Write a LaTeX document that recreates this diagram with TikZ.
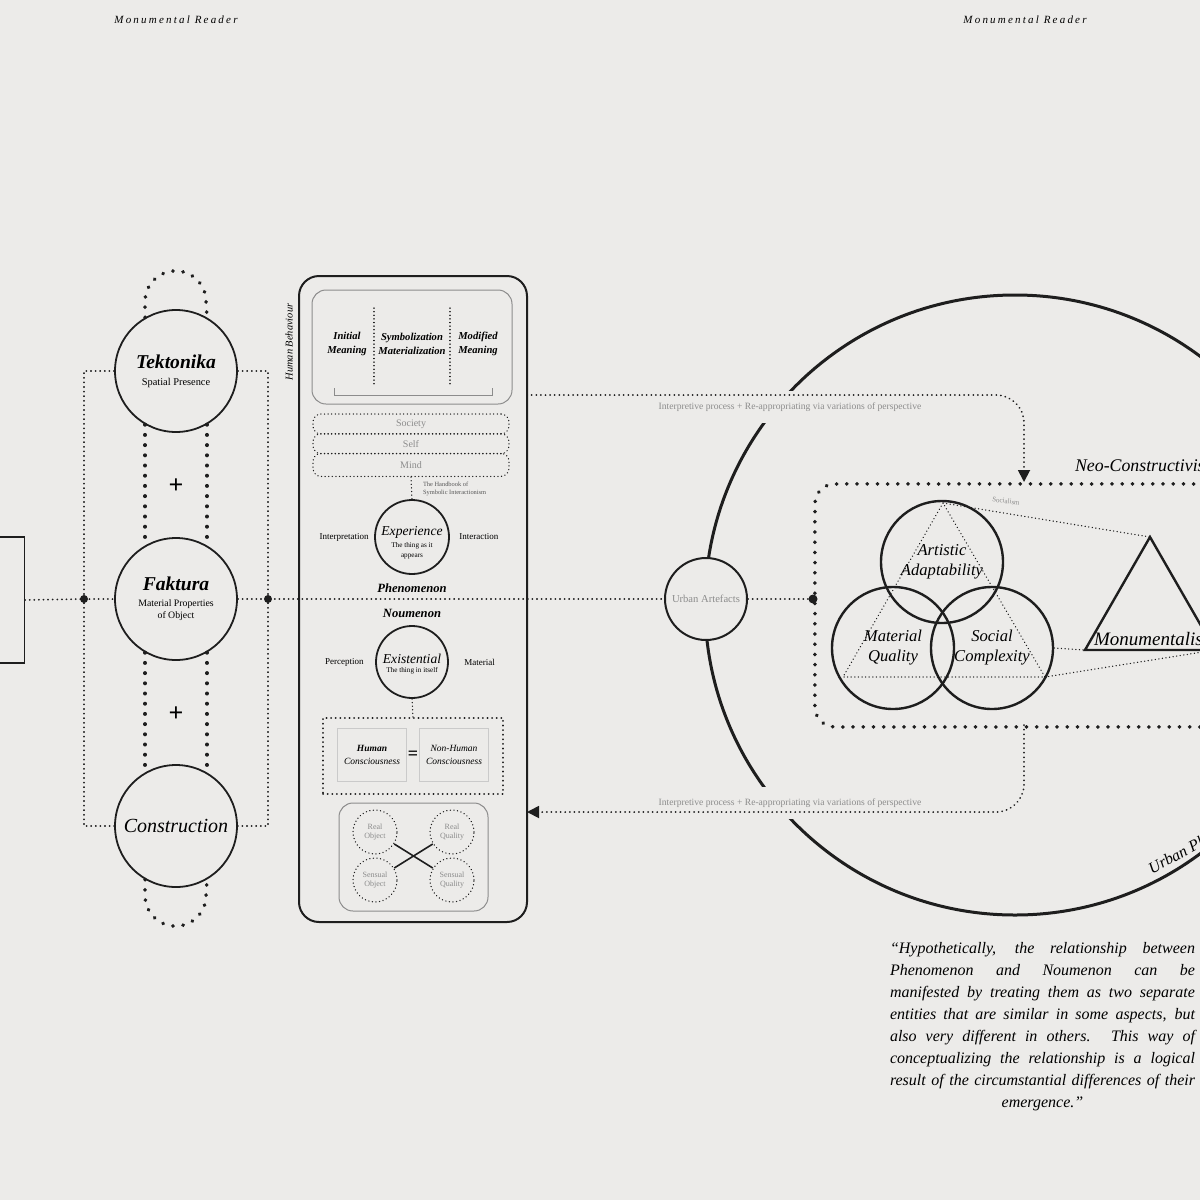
\documentclass[tikz,border=0pt]{standalone}
\usepackage{fontspec}
\setmainfont{Liberation Serif}
\usepackage{xcolor}
\usetikzlibrary{arrows.meta,positioning}

\definecolor{paper}{HTML}{ECEBE9}
\definecolor{ink}{HTML}{1E1E1E}
\definecolor{fade}{HTML}{8C8C8C}
\definecolor{faint}{HTML}{CACACA}
\newcommand{\fsz}[2]{\fontsize{#1}{#2}\selectfont}
\newcommand{\qline}[1]{\makebox[\linewidth][s]{\spaceskip=0pt\xspaceskip=0pt\relax #1}}

\begin{document}
\begin{tikzpicture}[x=0.5pt,y=-0.5pt,
  fine/.style={draw=ink,line width=0.9pt,dash pattern=on 0.1pt off 2.2pt,line cap=round},
  coarse/.style={draw=ink,line width=1.9pt,dash pattern=on 0.1pt off 5pt,line cap=round},
  speck/.style={draw=ink,line width=0.65pt,dash pattern=on 0.1pt off 1.7pt,line cap=round},
  bigc/.style={circle,draw=ink,line width=0.9pt,minimum size=61pt,inner sep=0pt,align=center},
  smallc/.style={circle,draw=ink,line width=0.9pt,minimum size=37pt,inner sep=0pt},
  vennc/.style={circle,draw=ink,line width=1.2pt,minimum size=61pt,inner sep=0pt,align=center,font=\fsz{8.3}{10}\itshape},
  ontc/.style={circle,speck,minimum size=22pt,inner sep=0pt,align=center,text=fade,font=\fsz{4}{4.8}},
  pale/.style={draw=fade,line width=0.5pt,rounded corners=7pt},
  layer/.style={speck,rounded corners=4pt,inner sep=0pt,minimum width=98pt,minimum height=10pt,text=fade,font=\fsz{5}{6}},
  side/.style={font=\fsz{4.5}{5},inner sep=0pt},
  inside/.style={align=center,inner sep=0pt},
  arr/.style={fine,-{Triangle[length=6pt,width=6pt]}},
  head/.style={font=\fsz{5.5}{6}\itshape\addfontfeature{LetterSpace=20}}]
\useasboundingbox (0,0) rectangle (1200,1200);
\clip (0,0) rectangle (1200,1200);
\fill[paper] (0,0) rectangle (1200,1200);

% headers
\node[head] (hdl) at (176,20) {Monumental Reader};
\node[head] (hdr) at (1025,20) {Monumental Reader};

% left column
\node[draw=ink,line width=0.6pt,minimum width=40pt,minimum height=63pt,anchor=east] (src) at (25,600) {};
\node[bigc,font=\fsz{5.2}{6.5}] (tek) at (176,371) {{\fsz{9.8}{11}\bfseries\itshape Tektonika}\\[2pt]Spatial Presence};
\node[bigc,font=\fsz{4.9}{6}] (fak) at (176,599) {{\fsz{9.8}{11}\bfseries\itshape Faktura}\\[2pt]Material Properties\\of Object};
\node[bigc,font=\fsz{10}{11}\itshape] (con) at (176,826) {Construction};
\node[font=\fsz{13}{13}\bfseries] (p1) at (176,486) {+};
\node[font=\fsz{13}{13}\bfseries] (p2) at (176,714) {+};
\draw[coarse] (tek.-120) -- (fak.120);
\draw[coarse] (tek.-60) -- (fak.60);
\draw[coarse] (fak.-120) -- (con.120);
\draw[coarse] (fak.-60) -- (con.60);
\draw[coarse] (tek.120) -- ++(0,-16) arc[start angle=180,end angle=360,radius=30.5] -- (tek.60);
\draw[coarse] (con.-120) -- ++(0,16) arc[start angle=180,end angle=0,radius=30.5] -- (con.-60);
\coordinate (lj) at (84,599);
\coordinate (rj) at (268,599);
\draw[fine] (tek.west) -| (lj) |- (con.west);
\draw[fine] (tek.east) -| (rj) |- (con.east);

% human behaviour column
\node[draw=ink,line width=1pt,rounded corners=10pt,minimum width=114pt,minimum height=323pt] (hb) at (413,599) {};
\node[rotate=90,font=\fsz{5.2}{6}\itshape] (hbl) at (289,342) {Human Behaviour};
\node[pale,minimum width=100pt,minimum height=57pt] (mean) at (412,347) {};
\node[font=\fsz{5.3}{6.8}\bfseries\itshape,align=center] (im) at (347,344) {Initial\\Meaning};
\node[font=\fsz{5.3}{6.8}\bfseries\itshape,align=center] (sm) at (412,344) {Symbolization\\Materialization};
\node[font=\fsz{5.3}{6.8}\bfseries\itshape,align=center] (mm) at (478,344) {Modified\\Meaning};
\draw[speck] (374,308) -- (374,386);
\draw[speck] (450,308) -- (450,386);
\draw[fade,line width=0.5pt] (334,388) |- (492,395) -- (492,388);
\node[layer] (soc) at (411,424) {Society};
\node[layer,below=-0.8pt of soc] (self) {Self};
\node[layer,below=-0.8pt of self,minimum height=11.5pt] (mind) {Mind};
\node[font=\fsz{3.2}{3.8},text=ink!75,align=left,anchor=west] (hbk) at (416,489) {The Handbook of\\Symbolic Interactionism};
\node[smallc] (exp) at (412,537) {};
\node[inside,font=\fsz{3.6}{5}] (expt) at ([yshift=-3pt]exp.center) {{\fsz{6.8}{7.5}\itshape Experience}\\[1pt]The thing as it\\appears};
\draw[speck] (mind.south) -- (exp.north);
\node[side,left=2.5pt of exp] (intp) {Interpretation};
\node[side,right=4.5pt of exp] (intr) {Interaction};
\node[font=\fsz{6.3}{7}\bfseries\itshape] (phen) at (412,588) {Phenomenon};
\node[font=\fsz{6.3}{7}\bfseries\itshape] (noum) at (412,613) {Noumenon};
\node[smallc,minimum size=36pt] (exi) at (412,662) {};
\node[inside,font=\fsz{3.6}{4.6}] (exit) at ([yshift=-1pt]exi.center) {{\fsz{6.8}{7.5}\itshape Existential}\\The thing in itself};
\node[side,left=5.5pt of exi] (perc) {Perception};
\node[side,right=7.5pt of exi] (matl) {Material};
\node[fine,minimum width=90pt,minimum height=38pt] (hum) at (413,756) {};
\draw[speck] (exi.south) -- (hum.north);
\node[draw=faint,line width=0.4pt,minimum width=34.5pt,minimum height=26.5pt,font=\fsz{4.75}{6.5}\itshape,align=center] (hc) at (372,755) {\textbf{Human}\\Consciousness};
\node[draw=faint,line width=0.4pt,minimum width=34pt,minimum height=26.5pt,font=\fsz{4.75}{6.5}\itshape,align=center] (nhc) at (454,755) {Non-Human\\Consciousness};
\node[font=\fsz{9}{9}\bfseries] (eq) at (413,755) {=};
\node[pale,minimum width=74.5pt,minimum height=54pt] (ont) at (413.5,857) {};
\node[ontc] (ro) at (375,832) {Real\\Object};
\node[ontc] (rq) at (452,832) {Real\\Quality};
\node[ontc] (so) at (375,880) {Sensual\\Object};
\node[ontc] (sq) at (452,880) {Sensual\\Quality};
\draw[ink,line width=0.8pt] (ro) -- (sq);
\draw[ink,line width=0.8pt] (rq) -- (so);

% urban phenomenon
\node[circle,draw=ink,line width=1.5pt,minimum size=310pt] (uph) at (1015,605) {};
\node[font=\fsz{8}{9}\itshape,rotate=29,anchor=base west] (uphl) at (1146,878) {Urban Phenomenon};
\node[fill=paper,inner xsep=1pt,inner ysep=6pt,font=\fsz{4.8}{5},text=fade] (ipt) at (790,407) {Interpretive process + Re-appropriating via variations of perspective};
\node[fill=paper,inner xsep=1pt,inner ysep=6pt,font=\fsz{4.8}{5},text=fade] (ipb) at (790,803) {Interpretive process + Re-appropriating via variations of perspective};
\node[circle,draw=ink,line width=1pt,fill=paper,minimum size=41pt,inner sep=0pt,font=\fsz{5.3}{6},text=fade] (ua) at (706,599) {Urban Artefacts};
\draw[fine] (src.east) -- (lj) -- (fak.west);
\draw[fine] (fak.east) -- (rj) -- (ua.west);
\fill[ink] (lj) circle[radius=4];
\fill[ink] (rj) circle[radius=4];

% neo-constructivism
\node[coarse,rounded corners=10pt,minimum width=230pt,minimum height=121.5pt,anchor=north west] (neo) at (813,482) {};
\node[font=\fsz{8.9}{9}\itshape,anchor=west] (neot) at (1068,466) {Neo-Constructivism};
\coordinate (nj) at (813,599);
\draw[fine] (ua.east) -- (nj);
\fill[ink] (nj) circle[radius=4.5];
\coordinate (tout) at (527,395);
\coordinate (tin) at (1024,482);
\draw[arr,rounded corners=14pt] (tout) -| (tin);
\coordinate (bout) at (1024,725);
\coordinate (bin) at (527,812);
\draw[arr,rounded corners=14pt] (bout) |- (bin);

% venn
\coordinate (ta) at (943,503);
\coordinate (tl) at (843,677);
\coordinate (tr) at (1045,677);
\draw[speck] (ta) -- (tl) -- (tr) -- cycle;
\node[vennc] (art) at (942,562) {Artistic\\Adaptability};
\node[vennc] (mat) at (893,648) {Material\\Quality};
\node[vennc] (scx) at (992,648) {Social\\Complexity};
\coordinate (ma) at (1150,537);
\coordinate (ml) at (1085,650);
\coordinate (mr) at (1215,650);
\draw[ink,line width=1.2pt] (ma) -- (ml) -- (mr) -- cycle;
\node[font=\fsz{9.5}{10}\itshape,anchor=base west] (mon) at (1087,645) {Monumentalism};
\draw[speck] (ta) -- (ma);
\draw[speck] (scx.east) -- (ml);
\draw[speck] (tr) -- (mr);
\node[font=\fsz{3.5}{4},text=fade,rotate=-8] (socl) at (1006,501) {Socialism};

% quote
\node[anchor=north,font=\fsz{8}{11}\itshape,align=center,text width=152.5pt,inner sep=0pt] (quote) at (1042.5,942) {%
\qline{“Hypothetically, the relationship between}\\
\qline{Phenomenon and Noumenon can be}\\
\qline{manifested by treating them as two separate}\\
\qline{entities that are similar in some aspects, but}\\
\qline{also very different in others. This way of}\\
\qline{conceptualizing the relationship is a logical}\\
\qline{result of the circumstantial differences of their}\\
emergence.”};
\end{tikzpicture}
\end{document}
